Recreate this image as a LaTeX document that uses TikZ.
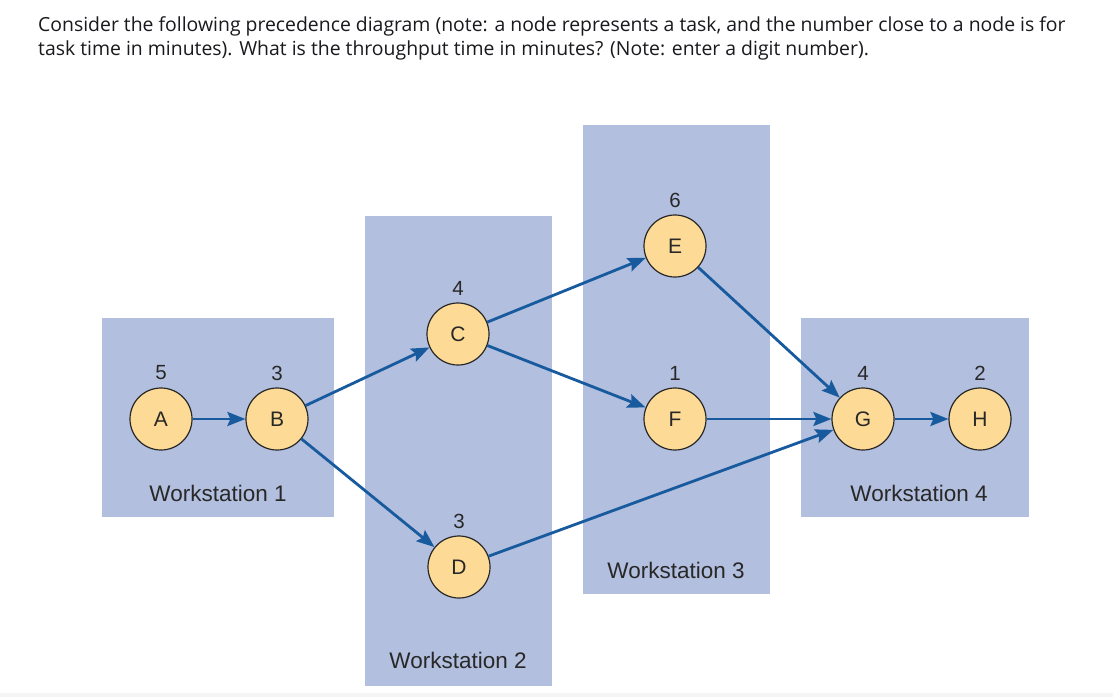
\documentclass[tikz,border=0pt]{standalone}
\usepackage{fontspec}
\setmainfont{Liberation Sans}
\newfontfamily\titlefont{Open Sans}
\usetikzlibrary{arrows.meta}
\definecolor{wsblue}{RGB}{178,191,222}
\definecolor{nodefill}{RGB}{253,218,150}
\definecolor{arrowblue}{RGB}{24,90,158}
\definecolor{textgray}{RGB}{40,40,40}
\definecolor{titlecol}{RGB}{25,25,30}
\tikzset{
  wsbox/.style={fill=wsblue,draw=none},
  task/.style={circle,draw=textgray,line width=1.2pt,fill=nodefill,minimum size=62pt,inner sep=0pt,font=\fontsize{21}{21}\selectfont,text=textgray},
  tlabel/.style={font=\fontsize{20.5}{20.5}\selectfont,text=textgray},
  wslabel/.style={font=\fontsize{22.5}{22.5}\selectfont,text=textgray},
  flow/.style={draw=arrowblue,line width=2.8pt,-{Stealth[length=18pt,width=14pt,inset=3pt]}}
}
\begin{document}
\begin{tikzpicture}[x=1pt,y=-1pt]
\useasboundingbox (0,0) rectangle (1113,697);
\fill[white] (0,0) rectangle (1113,697);
\fill[black!4] (0,693) rectangle (1113,697);
% title
\node[anchor=north west,inner sep=0pt,align=left,text=titlecol,font=\titlefont\fontsize{19.4}{24}\selectfont] (title) at (38,16)
 {Consider the following precedence diagram (note: a node represents a task, and the number close to a node is for\\
 task time in minutes). What is the throughput time in minutes? (Note: enter a digit number).};
% workstations
\fill[wsbox] (102,318) rectangle (334,517);
\fill[wsbox] (365,216) rectangle (552,686);
\fill[wsbox] (583,125) rectangle (770,594);
\fill[wsbox] (801,318) rectangle (1029,517);
\node[wslabel] (ws1) at (218,493) {Workstation 1};
\node[wslabel] (ws2) at (458,660) {Workstation 2};
\node[wslabel] (ws3) at (676,570) {Workstation 3};
\node[wslabel] (ws4) at (919,493) {Workstation 4};
% tasks
\node[task] (A) at (161,419) {A};
\node[task] (B) at (277,419) {B};
\node[task] (C) at (458,334) {C};
\node[task] (D) at (459,567) {D};
\node[task] (E) at (675,246) {E};
\node[task] (F) at (675,419) {F};
\node[task] (G) at (863,419) {G};
\node[task] (H) at (980,419) {H};
% times
\node[tlabel] (tA) at (161,373) {5};
\node[tlabel] (tB) at (277,373) {3};
\node[tlabel] (tC) at (458,288) {4};
\node[tlabel] (tD) at (459,521) {3};
\node[tlabel] (tE) at (675,200) {6};
\node[tlabel] (tF) at (675,373) {1};
\node[tlabel] (tG) at (863,373) {4};
\node[tlabel] (tH) at (980,373) {2};
% flows
\draw[flow] (A) -- (B);
\draw[flow] (B) -- (C);
\draw[flow] (B) -- (D);
\draw[flow] (C) -- (E);
\draw[flow] (C) -- (F);
\draw[flow] (E) -- (G);
\draw[flow] (F) -- (G);
\draw[flow] (D) -- (G);
\draw[flow] (G) -- (H);
\end{tikzpicture}
\end{document}
